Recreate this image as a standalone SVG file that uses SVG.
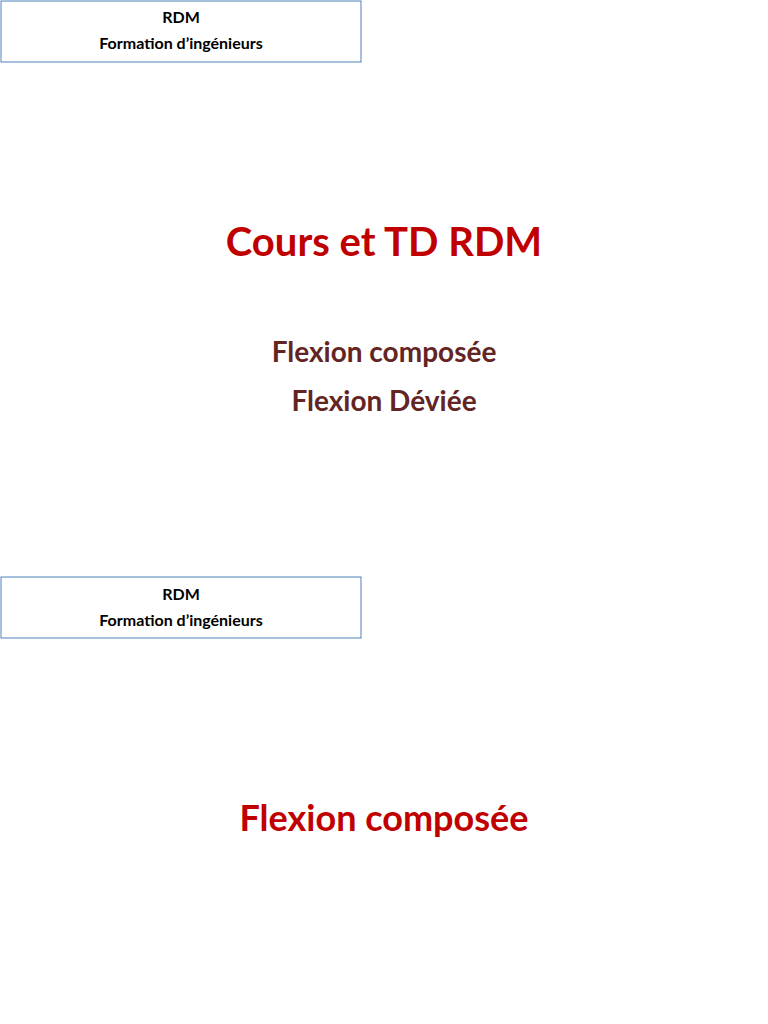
<svg xmlns="http://www.w3.org/2000/svg" width="768" height="1024" viewBox="0 0 768 1024">
<style>
.box{fill:#fff;stroke:#4f81bd;stroke-width:1}
text{font-family:Lato,"Open Sans","Liberation Sans",sans-serif;font-weight:bold;text-anchor:middle}
.s{font-size:16px;fill:#000}
.t{fill:#c00000}
.sub{font-size:28px;fill:#632523}
</style>
<rect width="768" height="1024" fill="#fff"/>
<g id="header1"><rect class="box" x="1" y="1" width="360" height="61"/>
<text class="s" x="181" y="23">RDM</text><text class="s" x="181" y="49">Formation d’ingénieurs</text></g>
<g id="title"><text class="t" x="384" y="256" font-size="40">Cours et TD RDM</text></g>
<g id="subtitles"><text class="sub" x="384" y="362">Flexion composée</text>
<text class="sub" x="384" y="411">Flexion Déviée</text></g>
<g id="header2"><rect class="box" x="1" y="577" width="360" height="61"/>
<text class="s" x="181" y="600">RDM</text><text class="s" x="181" y="626">Formation d’ingénieurs</text></g>
<g id="title2"><text class="t" x="384" y="831" font-size="36">Flexion composée</text></g>
<g id="connectors"/>
</svg>
